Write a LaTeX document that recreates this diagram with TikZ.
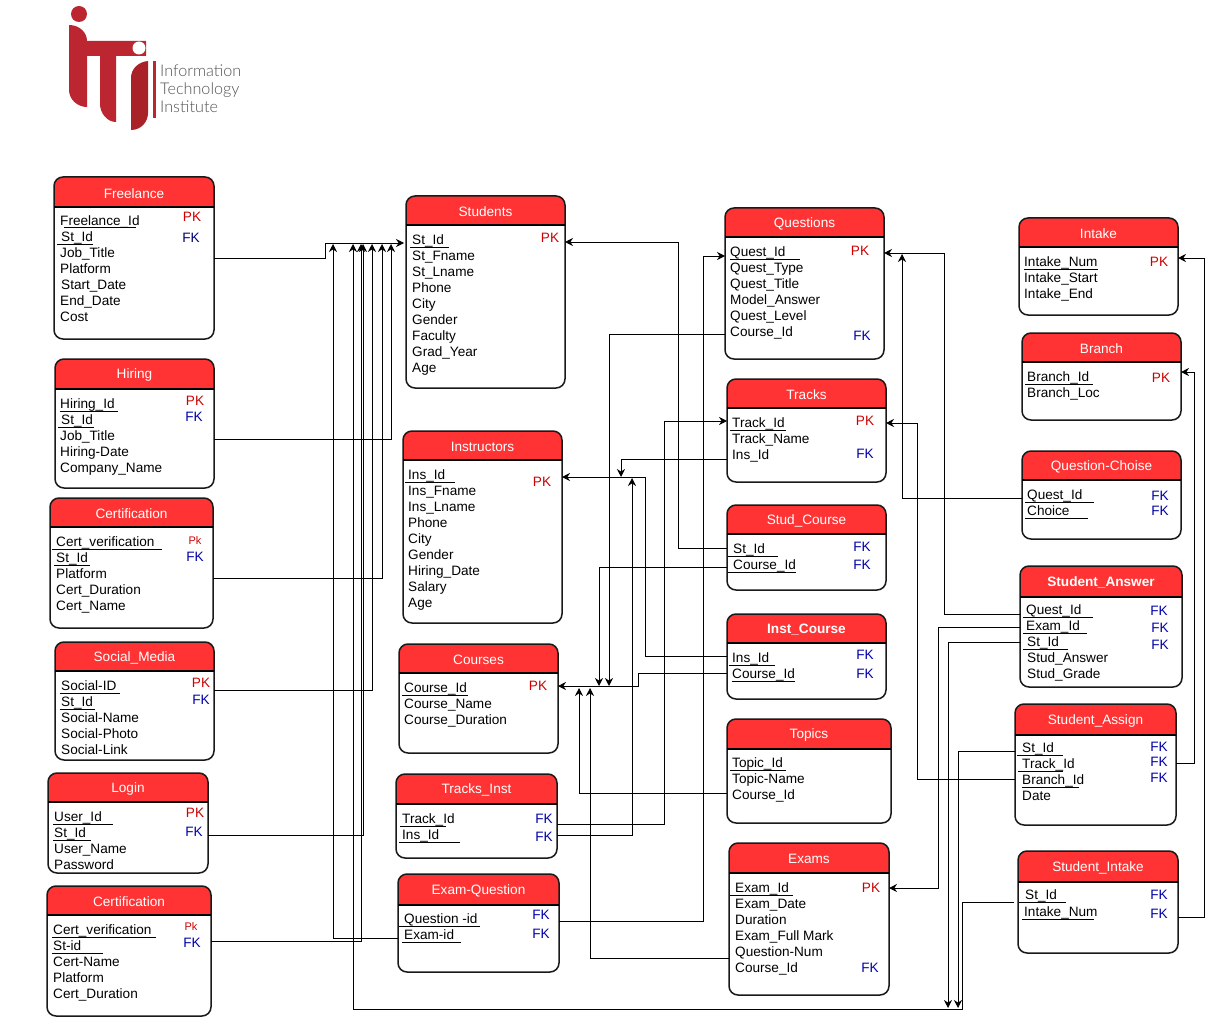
\documentclass[tikz,border=0pt]{standalone}
\usepackage{fontspec}
\setmainfont{Liberation Sans}
\newfontfamily\logofont{Lato Light}
\usetikzlibrary{arrows.meta,fit}
\definecolor{headred}{HTML}{FF3333}
\definecolor{logored}{HTML}{BB2630}
\definecolor{logodark}{HTML}{A82228}
\definecolor{pkred}{HTML}{CC0000}
\definecolor{fkblue}{HTML}{0000AA}
\tikzset{
  tablebox/.style={draw=black!90,line width=1.5pt,rounded corners=9pt,inner sep=0pt,outer sep=0pt},
  tabletitle/.style={text=white,yshift=-1.2pt,font=\fontsize{13.6}{16}\selectfont},
  field/.style={anchor=west,inner sep=0pt,text height=11pt,text depth=2.5pt,font=\fontsize{13.6}{16}\selectfont},
  pk/.style={inner sep=0pt,text=pkred,font=\fontsize{13.6}{16}\selectfont},
  fk/.style={inner sep=0pt,text=fkblue,font=\fontsize{13.6}{16}\selectfont},
  keyline/.style={line width=0.9pt},
  link/.style={draw,line width=0.9pt,-{Stealth[length=8pt,width=8pt]}},
  logotext/.style={anchor=west,inner sep=0pt,text height=12pt,text depth=3pt,text=black!68,font=\logofont\fontsize{16.2}{18}\selectfont}
}
\newcommand{\tablebody}[7]{
  \fill[headred] (#2,#6) [rounded corners=9pt] -- (#2,#3) -- (#4,#3) [sharp corners] -- (#4,#6) -- cycle;
  \node[tablebox,fit={(#2,#3) (#4,#5)}] (#1) {};
  \draw[line width=1.2pt] (#2,#6) -- (#4,#6);
  \path (#2,#3) -- (#4,#6) node[midway,tabletitle] (#1t) {#7};
}
\newcommand{\keyline}[3]{\draw[keyline] ([xshift=#2pt]#1.south west) -- +(#3,0);}
\begin{document}
\begin{tikzpicture}[x=1pt,y=-1pt]
\useasboundingbox (0,0) rectangle (1226,1019);
% logo
\fill[logored] (79,14) circle (8pt);
\fill[logored] (69,25) .. controls (79,25) and (87,32) .. (87,41) -- (146,41) -- (146,56) -- (116,56) -- (116,122) .. controls (107,122) and (100,113) .. (100,104) -- (100,56) -- (87,56) -- (87,107) .. controls (77,107) and (69,99) .. (69,90) -- cycle;
\fill[white] (139,48) circle (6.5pt);
\fill[logodark] (148,61) .. controls (138,62) and (131,69) .. (131,78) -- (131,130) .. controls (141,130) and (148,122) .. (148,113) -- cycle;
\fill[logored] (153,61) rectangle (155.5,118);
\node[logotext] (logo1) at (160,72) {Information};
\node[logotext] (logo2) at (160,90) {Technology};
\node[logotext] (logo3) at (160,108) {Institute};
% left column
\tablebody{freelance}{54}{177}{214}{339}{207}{Freelance}
\node[field] (flId) at (60,221) {Freelance\_Id};
\node[field] (flSt) at (61,237) {St\_Id};
\node[field] (flJob) at (60,253) {Job\_Title};
\node[field] (flPlat) at (60,269) {Platform};
\node[field] (flStart) at (61,285) {Start\_Date};
\node[field] (flEnd) at (60,301) {End\_Date};
\node[field] (flCost) at (60,317) {Cost};
\node[pk] (flPk) at (192,217) {PK};
\node[fk,text=fkblue!70!black] (flFk) at (191,238) {FK};
\keyline{flId}{4}{72}
\keyline{flSt}{-4}{36}
\tablebody{hiring}{55}{359}{214}{488}{389}{Hiring}
\node[field] (hiId) at (60,404) {Hiring\_Id};
\node[field] (hiSt) at (61,420) {St\_Id};
\node[field] (hiJob) at (60,436) {Job\_Title};
\node[field] (hiDate) at (60,452) {Hiring-Date};
\node[field] (hiComp) at (60,468) {Company\_Name};
\node[pk] (hiPk) at (195,401) {PK};
\node[fk] (hiFk) at (194,417) {FK};
\keyline{hiId}{0}{58}
\keyline{hiSt}{-3}{36}
\tablebody{certa}{50}{498}{213}{628}{527}{Certification}
\node[field] (caVer) at (56,542) {Cert\_verification};
\node[field] (caSt) at (56,558) {St\_Id};
\node[field] (caPlat) at (56,574) {Platform};
\node[field] (caDur) at (56,590) {Cert\_Duration};
\node[field] (caName) at (56,606) {Cert\_Name};
\node[pk,font=\fontsize{11}{13}\selectfont] (caPk) at (195,541) {Pk};
\node[fk] (caFk) at (195,557) {FK};
\keyline{caVer}{-4}{110}
\keyline{caSt}{-2}{36}
\tablebody{social}{55}{642}{214}{760}{671}{Social\_Media}
\node[field] (soId) at (61,686) {Social-ID};
\node[field] (soSt) at (61,702) {St\_Id};
\node[field] (soName) at (61,718) {Social-Name};
\node[field] (soPhoto) at (61,734) {Social-Photo};
\node[field] (soLink) at (61,750) {Social-Link};
\node[pk] (soPk) at (201,683) {PK};
\node[fk] (soFk) at (201,700) {FK};
\keyline{soId}{-1}{60}
\keyline{soSt}{-1}{35}
\tablebody{login}{48}{773}{208}{873}{802}{Login}
\node[field] (loId) at (54,817) {User\_Id};
\node[field] (loSt) at (54,833) {St\_Id};
\node[field] (loName) at (54,849) {User\_Name};
\node[field] (loPass) at (54,865) {Password};
\node[pk] (loPk) at (195,813) {PK};
\node[fk] (loFk) at (194,832) {FK};
\keyline{loId}{-1}{60}
\keyline{loSt}{-1}{38}
\tablebody{certb}{47}{886}{211}{1016}{915}{Certification}
\node[field] (cbVer) at (53,930) {Cert\_verification};
\node[field] (cbSt) at (53,946) {St-id};
\node[field] (cbName) at (53,962) {Cert-Name};
\node[field] (cbPlat) at (53,978) {Platform};
\node[field] (cbDur) at (53,994) {Cert\_Duration};
\node[pk,font=\fontsize{11}{13}\selectfont] (cbPk) at (191,927) {Pk};
\node[fk] (cbFk) at (192,943) {FK};
\keyline{cbVer}{-1}{104}
\keyline{cbSt}{-1}{51}
% second column
\tablebody{students}{406}{196}{565}{388}{225}{Students}
\node[field] (stId) at (412,240) {St\_Id};
\node[field] (stF) at (412,256) {St\_Fname};
\node[field] (stL) at (412,272) {St\_Lname};
\node[field] (stPhone) at (412,288) {Phone};
\node[field] (stCity) at (412,304) {City};
\node[field] (stGender) at (412,320) {Gender};
\node[field] (stFac) at (412,336) {Faculty};
\node[field] (stGrad) at (412,352) {Grad\_Year};
\node[field] (stAge) at (412,368) {Age};
\node[pk] (stPk) at (550,238) {PK};
\keyline{stId}{-2}{39}
\tablebody{instructors}{403}{431}{562}{623}{460}{Instructors}
\node[field] (inId) at (408,475) {Ins\_Id};
\node[field] (inF) at (408,491) {Ins\_Fname};
\node[field] (inL) at (408,507) {Ins\_Lname};
\node[field] (inPhone) at (408,523) {Phone};
\node[field] (inCity) at (408,539) {City};
\node[field] (inGender) at (408,555) {Gender};
\node[field] (inHire) at (408,571) {Hiring\_Date};
\node[field] (inSal) at (408,587) {Salary};
\node[field] (inAge) at (408,603) {Age};
\node[pk] (inPk) at (542,482) {PK};
\keyline{inId}{-3}{50}
\tablebody{courses}{399}{644}{558}{753}{673}{Courses}
\node[field] (coId) at (404,688) {Course\_Id};
\node[field] (coName) at (404,704) {Course\_Name};
\node[field] (coDur) at (404,720) {Course\_Duration};
\node[pk] (coPk) at (538,686) {PK};
\keyline{coId}{-2}{66}
\tablebody{tracksinst}{396}{774}{557}{858}{804}{Tracks\_Inst}
\node[field] (tiTrack) at (402,819) {Track\_Id};
\node[field] (tiIns) at (402,835) {Ins\_Id};
\node[fk] (tiFka) at (544,819) {FK};
\node[fk] (tiFkb) at (544,837) {FK};
\keyline{tiTrack}{-2}{46}
\keyline{tiIns}{-3}{61}
\tablebody{examq}{398}{874}{559}{972}{905}{Exam-Question}
\node[field] (eqQ) at (404,919) {Question -id};
\node[field] (eqE) at (404,935) {Exam-id};
\node[fk] (eqFka) at (541,915) {FK};
\node[fk] (eqFkb) at (541,934) {FK};
\keyline{eqQ}{-5}{81}
\keyline{eqE}{-2}{59}
% third column
\tablebody{questions}{725}{208}{884}{359}{237}{Questions}
\node[field] (quId) at (730,252) {Quest\_Id};
\node[field] (quType) at (730,268) {Quest\_Type};
\node[field] (quTitle) at (730,284) {Quest\_Title};
\node[field] (quModel) at (730,300) {Model\_Answer};
\node[field] (quLevel) at (730,316) {Quest\_Level};
\node[field] (quCourse) at (730,332) {Course\_Id};
\node[pk] (quPk) at (860,251) {PK};
\node[fk] (quFk) at (862,336) {FK};
\keyline{quId}{0}{70}
\tablebody{tracks}{727}{379}{886}{482}{408}{Tracks}
\node[field] (trId) at (732,423) {Track\_Id};
\node[field] (trName) at (732,439) {Track\_Name};
\node[field] (trIns) at (732,455) {Ins\_Id};
\node[pk] (trPk) at (865,421) {PK};
\node[fk] (trFk) at (865,454) {FK};
\keyline{trId}{-2}{56}
\tablebody{studcourse}{727}{505}{886}{590}{534}{Stud\_Course}
\node[field] (scSt) at (733,549) {St\_Id};
\node[field] (scCourse) at (733,565) {Course\_Id};
\node[fk] (scFka) at (862,547) {FK};
\node[fk] (scFkb) at (862,565) {FK};
\keyline{scSt}{-5}{50}
\keyline{scCourse}{-5}{68}
\tablebody{instcourse}{727}{614}{886}{699}{643}{\textbf{Inst\_Course}}
\node[field] (icIns) at (732,658) {Ins\_Id};
\node[field] (icCourse) at (732,674) {Course\_Id};
\node[fk] (icFka) at (865,655) {FK};
\node[fk] (icFkb) at (865,674) {FK};
\keyline{icIns}{-3}{46}
\keyline{icCourse}{0}{63}
\tablebody{topics}{727}{719}{891}{823}{749}{Topics}
\node[field] (toId) at (732,763) {Topic\_Id};
\node[field] (toName) at (732,779) {Topic-Name};
\node[field] (toCourse) at (732,795) {Course\_Id};
\keyline{toId}{-2}{56}
\tablebody{exams}{729}{843}{889}{995}{873}{Exams}
\node[field] (exId) at (735,888) {Exam\_Id};
\node[field] (exDate) at (735,904) {Exam\_Date};
\node[field] (exDur) at (735,920) {Duration};
\node[field] (exMark) at (735,936) {Exam\_Full Mark};
\node[field] (exNum) at (735,952) {Question-Num};
\node[field] (exCourse) at (735,968) {Course\_Id};
\node[pk] (exPk) at (871,888) {PK};
\node[fk] (exFk) at (870,968) {FK};
\keyline{exId}{-5}{63}
% right column
\tablebody{intake}{1019}{218}{1178}{315}{247}{Intake}
\node[field] (ikNum) at (1024,262) {Intake\_Num};
\node[field] (ikStart) at (1024,278) {Intake\_Start};
\node[field] (ikEnd) at (1024,294) {Intake\_End};
\node[pk] (ikPk) at (1159,262) {PK};
\keyline{ikNum}{0}{74}
\tablebody{branch}{1022}{333}{1181}{420}{362}{Branch}
\node[field] (brId) at (1027,377) {Branch\_Id};
\node[field] (brLoc) at (1027,393) {Branch\_Loc};
\node[pk] (brPk) at (1161,378) {PK};
\keyline{brId}{-2}{68}
\tablebody{qchoise}{1022}{451}{1181}{539}{480}{Question-Choise}
\node[field] (qcId) at (1027,495) {Quest\_Id};
\node[field] (qcCh) at (1027,511) {Choice};
\node[fk] (qcFka) at (1160,496) {FK};
\node[fk] (qcFkb) at (1160,511) {FK};
\keyline{qcId}{-2}{69}
\keyline{qcCh}{-2}{63}
\tablebody{studans}{1020}{566}{1182}{687}{597}{\textbf{Student\_Answer}}
\node[field] (saQ) at (1026,610) {Quest\_Id};
\node[field] (saE) at (1026,626) {Exam\_Id};
\node[field] (saS) at (1027,642) {St\_Id};
\node[field] (saAns) at (1027,658) {Stud\_Answer};
\node[field] (saGr) at (1027,674) {Stud\_Grade};
\node[fk] (saFka) at (1159,611) {FK};
\node[fk] (saFkb) at (1160,628) {FK};
\node[fk] (saFkc) at (1160,645) {FK};
\keyline{saQ}{-3}{70}
\keyline{saE}{-3}{64}
\keyline{saS}{-4}{45}
\tablebody{studassign}{1015}{704}{1176}{825}{735}{Student\_Assign}
\node[field] (asS) at (1022,748) {St\_Id};
\node[field] (asT) at (1022,764) {Track\_Id};
\node[field] (asB) at (1022,780) {Branch\_Id};
\node[field] (asD) at (1022,796) {Date};
\node[fk] (asFka) at (1159,747) {FK};
\node[fk] (asFkb) at (1159,762) {FK};
\node[fk] (asFkc) at (1159,778) {FK};
\keyline{asS}{-5}{46}
\keyline{asT}{-4}{45}
\keyline{asB}{0}{57}
\tablebody{studintake}{1018}{851}{1178}{953}{882}{Student\_Intake}
\node[field] (siS) at (1025,895) {St\_Id};
\node[field] (siN) at (1024,912) {Intake\_Num};
\node[fk] (siFka) at (1159,895) {FK};
\node[fk] (siFkb) at (1159,914) {FK};
\keyline{siS}{-6}{47}
\keyline{siN}{-2}{72}
% free ends of the connectors
\coordinate (busA) at (333,244);
\coordinate (busB) at (353,244);
\coordinate (busC) at (361,244);
\coordinate (busD) at (363,244);
\coordinate (busE) at (372,244);
\coordinate (busF) at (382,244);
\coordinate (busG) at (391,244);
\coordinate (lowA) at (948,1008);
\coordinate (lowB) at (958,1008);
\coordinate (coA) at (599,686);
\coordinate (coB) at (609,686);
\coordinate (coC) at (579,688);
\coordinate (coD) at (590,688);
\coordinate (inA) at (621,477);
\coordinate (inB) at (632,478);
\coordinate (quA) at (902,254);
% connectors
\draw[link,shorten >=2pt] (freelance.east |- 0,258) -| (325,243) -- (students.west |- 0,243);
\draw[link] (hiring.east |- 0,439) -| (busG);
\draw[link] (certa.east |- 0,578) -| (busF);
\draw[link] (social.east |- 0,690) -| (busE);
\draw[link] (login.east |- 0,835) -| (busD);
\draw[link] (certb.east |- 0,941) -| (busC);
\draw[link] (examq.west |- 0,938) -| (busA);
\draw[link] (studintake.west |- 0,902) ++(-4,0) -- (962,902) -- (962,1009) -- (353,1009) -- (busB);
\draw[link] (studans.west |- 0,642) -| (lowA);
\draw[link] (studassign.west |- 0,751) -| (lowB);
\draw[link] (studans.west |- 0,627) -- (938,627) -- (938,888) -- (exams.east |- 0,888);
\draw[link] (studans.west |- 0,614) -- (944,614) -- (944,253) -- (questions.east |- 0,253);
\draw[link] (studassign.west |- 0,779) -- (917,779) -- (917,423) -- (tracks.east |- 0,423);
\draw[link] (studassign.east |- 0,763) -- (1194,763) -- (1194,372) -- (branch.east |- 0,372);
\draw[link] (studintake.east |- 0,917) -- (1204,917) -- (1204,258) -- (intake.east |- 0,258);
\draw[link] (qchoise.west |- 0,498) -| (quA);
\draw[link] (questions.west |- 0,334) -| (coB);
\draw[link] (studcourse.west |- 0,567) -| (coA);
\draw[link] (studcourse.west |- 0,548) -- (678,548) -- (678,242) -- (students.east |- 0,242);
\draw[link] (tracks.west |- 0,459) -| (inA);
\draw[link] (instcourse.west |- 0,656) -- (645,656) -- (645,477) -- (instructors.east |- 0,477);
\draw[link] (instcourse.west |- 0,673) -- (638,673) -- (638,686) -- (courses.east |- 0,686);
\draw[link] (tracksinst.east |- 0,835) -| (inB);
\draw[link] (tracksinst.east |- 0,824) -- (664,824) -- (664,421) -- (tracks.west |- 0,421);
\draw[link] (topics.west |- 0,793) -| (coC);
\draw[link] (exams.west |- 0,958) -| (coD);
\draw[link] (examq.east |- 0,921) -- (703,921) -- (703,256) -- (questions.west |- 0,256);
\end{tikzpicture}
\end{document}
